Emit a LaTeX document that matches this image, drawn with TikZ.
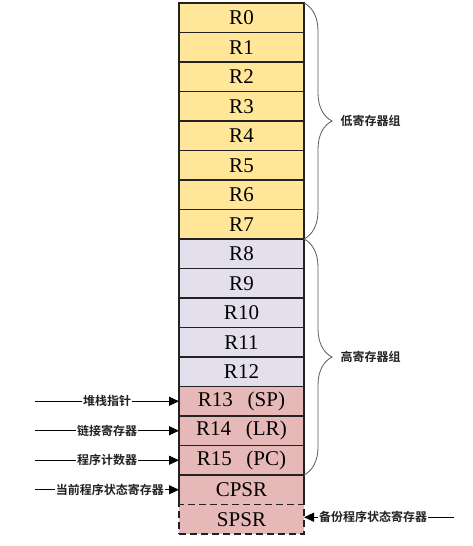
\documentclass[tikz,border=0pt]{standalone}
\usepackage{fontspec}
\setmainfont{Liberation Serif}
\newfontfamily\cjk{Noto Sans CJK SC}[BoldFont={Noto Sans CJK SC Bold}]
\usepackage{tikz}
\usetikzlibrary{arrows.meta, positioning, calc, decorations.pathreplacing}
\definecolor{regYellow}{RGB}{255,230,153}
\definecolor{regPurple}{RGB}{228,223,236}
\definecolor{regPink}{RGB}{230,184,183}
\definecolor{regLine}{RGB}{34,34,34}
\tikzset{
	every text node part/.style = {align=center},
	regBox/.style = {
		draw=regLine, line width=1.4pt, outer sep=0pt, inner sep=0pt,
		minimum width=125pt, minimum height=29.5pt,
		font=\fontsize{21}{21}\selectfont
	},
	grpBrace/.style = {
		draw={rgb,255:red,90; green,90; blue,90}, line width=0.8pt,
		decorate, decoration = {brace, amplitude=28pt}
	},
	cjkLab/.style = {
		font=\cjk\bfseries\fontsize{12}{12}\selectfont, text=regLine
	},
	pointer/.style = {
		line width=1pt, -{Triangle[length=10pt, width=9pt]}
	}
}

\begin{document}
\begin{tikzpicture}[x=1pt, y=1pt]
	\useasboundingbox (0,0) rectangle (473,546);
	
	\node [regBox, fill=regYellow] (r0) at (241.5,528.25) {R0};
	\node [regBox, fill=regYellow, below=0pt of r0] (r1) {R1};
	\node [regBox, fill=regYellow, below=0pt of r1] (r2) {R2};
	\node [regBox, fill=regYellow, below=0pt of r2] (r3) {R3};
	\node [regBox, fill=regYellow, below=0pt of r3] (r4) {R4};
	\node [regBox, fill=regYellow, below=0pt of r4] (r5) {R5};
	\node [regBox, fill=regYellow, below=0pt of r5] (r6) {R6};
	\node [regBox, fill=regYellow, below=0pt of r6] (r7) {R7};
	\node [regBox, fill=regPurple, below=0pt of r7] (r8) {R8};
	\node [regBox, fill=regPurple, below=0pt of r8] (r9) {R9};
	\node [regBox, fill=regPurple, below=0pt of r9] (r10) {R10};
	\node [regBox, fill=regPurple, below=0pt of r10] (r11) {R11};
	\node [regBox, fill=regPurple, below=0pt of r11] (r12) {R12};
	\node [regBox, fill=regPink, below=0pt of r12] (r13) {R13\hspace{0.7em}(SP)};
	\node [regBox, fill=regPink, below=0pt of r13] (r14) {R14\hspace{0.7em}(LR)};
	\node [regBox, fill=regPink, below=0pt of r14] (r15) {R15\hspace{0.7em}(PC)};
	\node [regBox, fill=regPink, below=0pt of r15] (cpsr) {CPSR};
	\node [regBox, fill=regPink, below=0pt of cpsr, dash pattern=on 7pt off 4pt] (spsr) {SPSR};
	
	\draw [grpBrace] (r0.north east) -- (r7.south east);
	\draw [grpBrace] (r8.north east) -- (r15.south east);
	\node [cjkLab, anchor=west] (lowLab) at ($(r0.north east)!0.5!(r7.south east)+(33,0)$) {低寄存器组};
	\node [cjkLab, anchor=west] (highLab) at ($(r8.north east)!0.5!(r15.south east)+(33,0)$) {高寄存器组};
	
	\coordinate (s13) at ($(r13.west)+(-144,0)$);
	\coordinate (s14) at ($(r14.west)+(-144,0)$);
	\coordinate (s15) at ($(r15.west)+(-144,0)$);
	\coordinate (sC) at ($(cpsr.west)+(-144,0)$);
	\coordinate (sS) at ($(spsr.east)+(150,2)$);
	
	\draw [pointer] (s13) -- node [cjkLab, fill=white, inner sep=1pt] (spLab) {堆栈指针} (r13.west);
	\draw [pointer] (s14) -- node [cjkLab, fill=white, inner sep=1pt] (lrLab) {链接寄存器} (r14.west);
	\draw [pointer] (s15) -- node [cjkLab, fill=white, inner sep=1pt] (pcLab) {程序计数器} (r15.west);
	\draw [pointer] (sC) -- node [cjkLab, fill=white, inner sep=1pt, pos=0.52] (cpsrLab) {当前程序状态寄存器} (cpsr.west);
	\draw [pointer] (sS) -- node [cjkLab, fill=white, inner sep=1pt, pos=0.54] (spsrLab) {备份程序状态寄存器} ($(spsr.east)+(0,2)$);
	
\end{tikzpicture}
\end{document}
